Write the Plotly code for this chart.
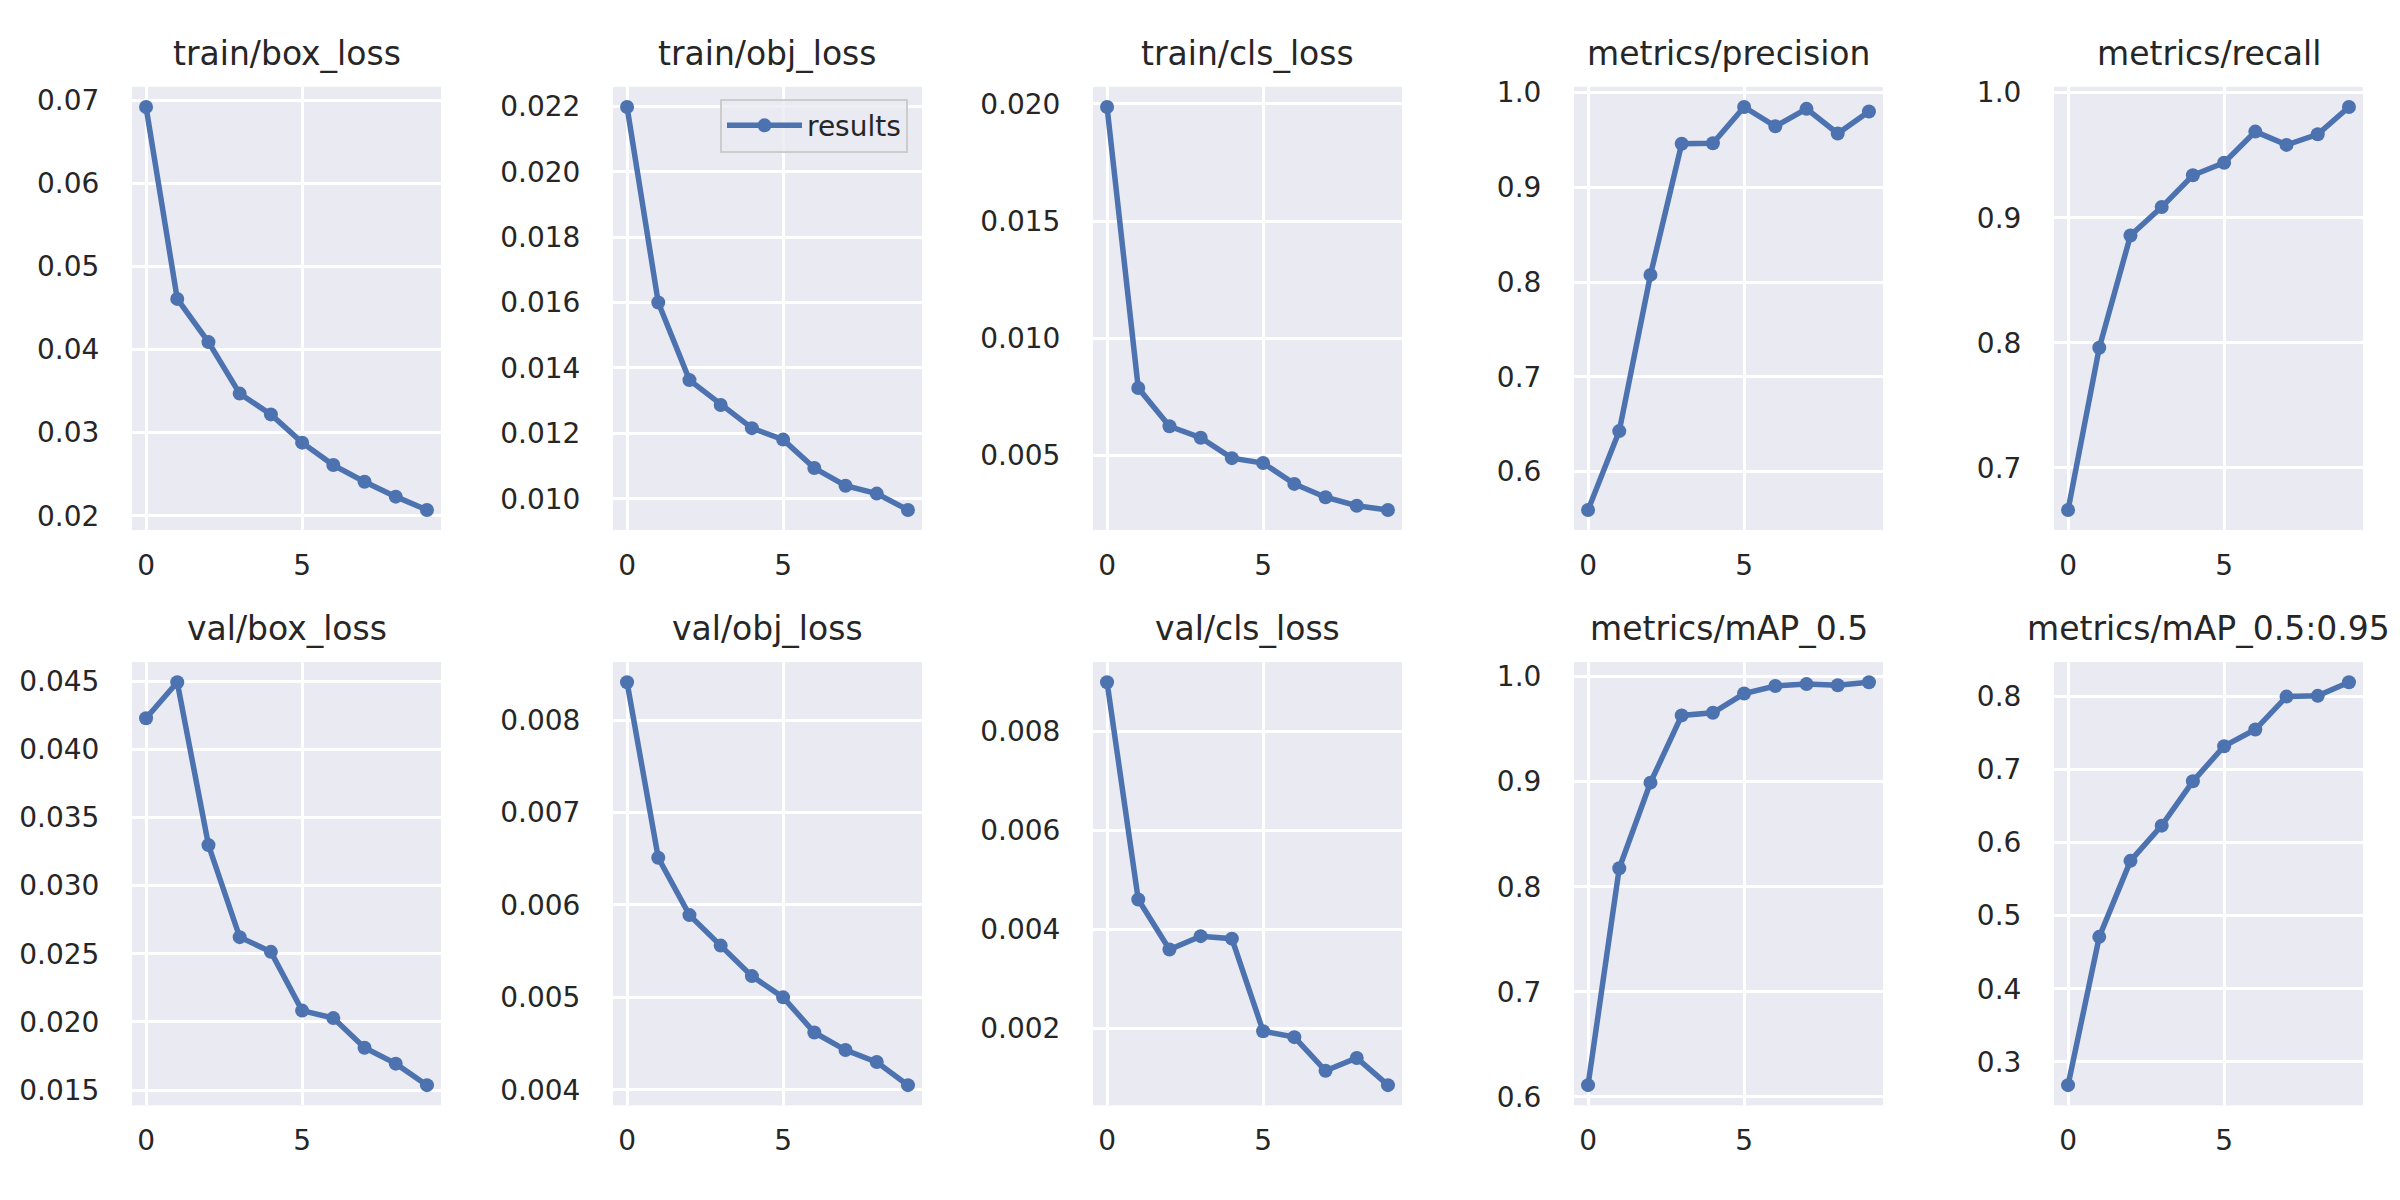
import plotly.graph_objects as go

# ---------------- data ----------------
epochs = [0, 1, 2, 3, 4, 5, 6, 7, 8, 9]

titles = [
    "train/box_loss", "train/obj_loss", "train/cls_loss", "metrics/precision", "metrics/recall",
    "val/box_loss", "val/obj_loss", "val/cls_loss", "metrics/mAP_0.5", "metrics/mAP_0.5:0.95",
]

train_box_loss = [0.0692, 0.0461, 0.0409, 0.0347, 0.0322, 0.0288, 0.0261, 0.0241, 0.0223, 0.0207]
train_obj_loss = [0.02198, 0.01600, 0.01363, 0.01287, 0.01216, 0.01181, 0.01094, 0.01040, 0.01016, 0.00966]
train_cls_loss = [0.01987, 0.00788, 0.00625, 0.00576, 0.00489, 0.00468, 0.00379, 0.00322, 0.00286, 0.00268]
metrics_precision = [0.5596, 0.6428, 0.8076, 0.9460, 0.9465, 0.9848, 0.9644, 0.9828, 0.9568, 0.9800]
metrics_recall = [0.6664, 0.7960, 0.8858, 0.9085, 0.9339, 0.9439, 0.9688, 0.9582, 0.9667, 0.9885]
val_box_loss = [0.04228, 0.04492, 0.03297, 0.02622, 0.02514, 0.02083, 0.02028, 0.01811, 0.01694, 0.01536]
val_obj_loss = [0.00841, 0.00651, 0.00589, 0.00556, 0.00523, 0.00500, 0.00462, 0.00443, 0.00430, 0.00405]
val_cls_loss = [0.00899, 0.00460, 0.00359, 0.00386, 0.00381, 0.00194, 0.00182, 0.00114, 0.00140, 0.00085]
metrics_map50 = [0.6111, 0.8176, 0.8990, 0.9630, 0.9655, 0.9838, 0.9910, 0.9928, 0.9917, 0.9946]
metrics_map50_95 = [0.2679, 0.4710, 0.5751, 0.6233, 0.6840, 0.7321, 0.7549, 0.8000, 0.8010, 0.8197]

series = [train_box_loss, train_obj_loss, train_cls_loss, metrics_precision, metrics_recall,
          val_box_loss, val_obj_loss, val_cls_loss, metrics_map50, metrics_map50_95]

y_dticks = [0.01, 0.002, 0.005, 0.1, 0.1, 0.005, 0.001, 0.002, 0.1, 0.1]
y_formats = [".2f", ".3f", ".3f", ".1f", ".1f", ".3f", ".3f", ".3f", ".1f", ".1f"]
x_tick_vals = [0, 5]
legend_label = "results"

# ---------------- style / layout ----------------
W, H = 2400, 1200
LINE = "#4C72B0"
BG = "#EAEAF2"
TXT = "#262626"
FONT = "DejaVu Sans"

col_left = [132, 613, 1093, 1574, 2054]
col_w = 309
row_top = [78, 662]
row_h = 450

fig = go.Figure()


def pad_range(vals, frac=0.05):
    lo, hi = min(vals), max(vals)
    d = (hi - lo) * frac
    return [lo - d, hi + d]


xr = pad_range(epochs)

for i, ys in enumerate(series):
    r, c = divmod(i, 5)
    n = i + 1
    xa = "x" if n == 1 else f"x{n}"
    ya = "y" if n == 1 else f"y{n}"
    fig.add_trace(go.Scatter(
        x=epochs, y=ys, mode="lines+markers",
        name=legend_label, showlegend=(i == 1),
        line=dict(color=LINE, width=5.5),
        marker=dict(color=LINE, size=14, line=dict(width=0)),
        xaxis=xa, yaxis=ya,
    ))
    x0 = col_left[c] / W
    x1 = (col_left[c] + col_w) / W
    y1 = 1 - row_top[r] / H
    y0 = 1 - (row_top[r] + row_h) / H
    xkey = "xaxis" if n == 1 else f"xaxis{n}"
    ykey = "yaxis" if n == 1 else f"yaxis{n}"
    fig.update_layout(**{
        xkey: dict(
            domain=[x0, x1], anchor=ya, range=xr,
            tickmode="array", tickvals=x_tick_vals,
            showgrid=True, gridcolor="white", gridwidth=2.8,
            zeroline=False, showline=False,
            ticks="outside", ticklen=10, tickcolor="rgba(0,0,0,0)",
            tickfont=dict(family=FONT, size=28, color=TXT),
        ),
        ykey: dict(
            domain=[y0, y1], anchor=xa, range=pad_range(ys),
            tick0=0, dtick=y_dticks[i], tickformat=y_formats[i],
            showgrid=True, gridcolor="white", gridwidth=2.8,
            zeroline=False, showline=False,
            ticks="outside", ticklen=26, tickcolor="rgba(0,0,0,0)",
            tickfont=dict(family=FONT, size=28, color=TXT),
        ),
    })
    fig.add_annotation(
        text=titles[i], xref="paper", yref="paper",
        x=(col_left[c] + col_w / 2) / W, y=1 - (row_top[r] - 34) / H,
        xanchor="center", yanchor="middle", showarrow=False,
        font=dict(family=FONT, size=33, color=TXT),
    )

fig.update_layout(
    width=W, height=H,
    margin=dict(l=0, r=0, t=0, b=0),
    paper_bgcolor="white", plot_bgcolor=BG,
    font=dict(family=FONT, color=TXT),
    showlegend=True,
    legend=dict(
        x=908 / W, y=1 - 90 / H, xanchor="right", yanchor="top",
        bgcolor="rgba(234,234,242,0.8)", bordercolor="#CCCCCC", borderwidth=2,
        font=dict(family=FONT, size=28, color=TXT),
        itemwidth=75,
    ),
)

fig.write_html("out.html", config={"displayModeBar": False},
               post_script="document.body.style.margin='0px';")
